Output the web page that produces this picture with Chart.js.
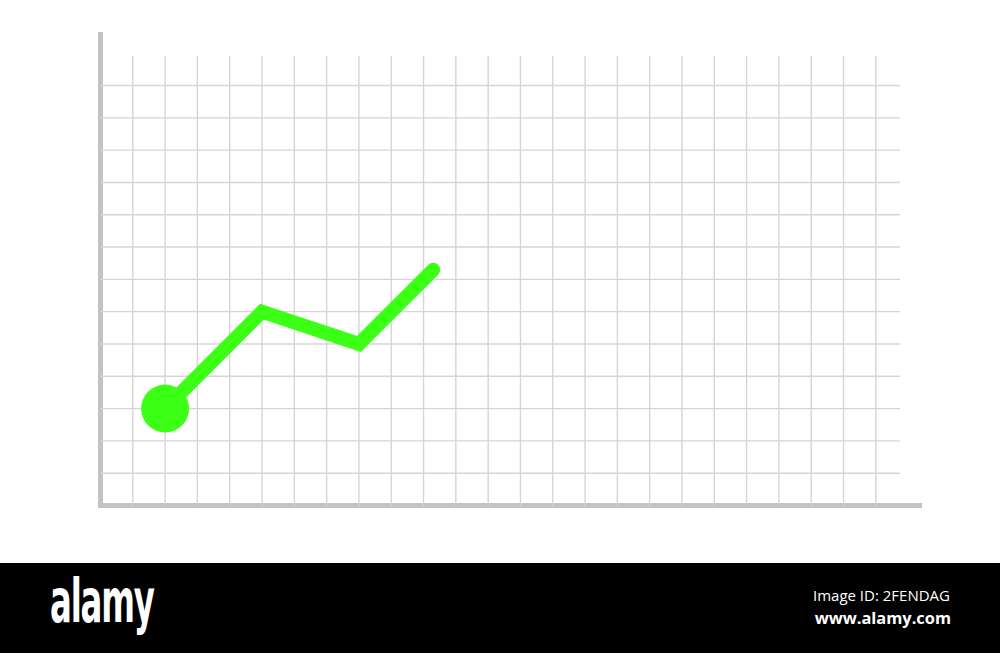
<!DOCTYPE html>
<html>
<head>
<meta charset="utf-8">
<script src="https://cdn.jsdelivr.net/npm/chart.js@4"></script>
<style>
  html, body { margin: 0; padding: 0; background: #fff; }
  #wrap { position: relative; width: 1000px; height: 563px; }
  #band { position: relative; width: 1000px; height: 90px; background: #000; overflow: hidden; }
  #logo { position: absolute; left: 50px; top: 8px; color: #fff; font-family: 'Liberation Sans Narrow', 'DejaVu Sans Condensed', sans-serif; font-weight: bold; font-size: 60px; letter-spacing: -2px; line-height: 60px; transform: scaleX(0.6); transform-origin: left top; }
  #imgid { position: absolute; right: 50px; top: 22px; color: #fff; font-family: 'Open Sans', 'Noto Sans', sans-serif; font-size: 15px; line-height: 20px; }
  #url { position: absolute; right: 49px; top: 45px; color: #fff; font-family: 'Open Sans', 'Noto Sans', sans-serif; font-weight: bold; font-size: 16.4px; line-height: 20px; }
</style>
</head>
<body>
<div id="wrap"><canvas id="c"></canvas></div>
<div id="band">
  <div id="logo">alamy</div>
  <div id="imgid">Image ID: 2FENDAG</div>
  <div id="url">www.alamy.com</div>
</div>
<script>
// Data
const xValues = [2, 5, 8, 10.3];
const yValues = [3, 6, 5, 7.3];
const pointSizes = [24, 0, 0, 0];
// Grid line positions (in axis units)
const xGridTicks = [1,2,3,4,5,6,7,8,9,10,11,12,13,14,15,16,17,18,19,20,21,22,23,24];
const yGridTicks = [1,2,3,4,5,6,7,8,9,10,11,12,13];
const xGridEnd = 24.75;
const yGridEnd = 13.92;
const xMax = 25.43;
const yMax = 14.58;

const gridPlugin = {
  id: 'paperGrid',
  beforeDatasetsDraw(chart) {
    const ctx = chart.ctx;
    const xs = chart.scales.x, ys = chart.scales.y;
    ctx.save();
    ctx.strokeStyle = '#d5d5d5';
    ctx.lineWidth = 1.4;
    const yTop = ys.getPixelForValue(yGridEnd);
    const yBot = ys.getPixelForValue(0);
    xGridTicks.forEach(v => {
      const px = xs.getPixelForValue(v);
      ctx.beginPath(); ctx.moveTo(px, yTop); ctx.lineTo(px, yBot); ctx.stroke();
    });
    const xL = xs.getPixelForValue(0);
    const xR = xs.getPixelForValue(xGridEnd);
    yGridTicks.forEach(v => {
      const py = ys.getPixelForValue(v);
      ctx.beginPath(); ctx.moveTo(xL, py); ctx.lineTo(xR, py); ctx.stroke();
    });
    ctx.restore();
  }
};

new Chart(document.getElementById('c'), {
  type: 'line',
  data: {
    datasets: [{
      data: xValues.map((x, i) => ({ x: x, y: yValues[i] })),
      borderColor: '#3cff16',
      backgroundColor: '#3cff16',
      borderWidth: 14,
      borderCapStyle: 'round',
      borderJoinStyle: 'miter',
      pointRadius: pointSizes,
      pointBorderWidth: 0,
      pointHoverRadius: pointSizes,
      tension: 0,
      fill: false
    }]
  },
  options: {
    responsive: true,
    maintainAspectRatio: false,
    animation: false,
    events: [],
    layout: { padding: { left: 100.5, top: 34.5, right: 78, bottom: 57.5 } },
    plugins: { legend: { display: false }, tooltip: { enabled: false } },
    scales: {
      x: {
        type: 'linear', min: 0, max: xMax,
        grid: { display: true, drawOnChartArea: false, drawTicks: false, lineWidth: 0 },
        border: { display: true, color: '#c3c3c3', width: 5 },
        ticks: { display: false, stepSize: 1 }
      },
      y: {
        type: 'linear', min: 0, max: yMax,
        grid: { display: true, drawOnChartArea: false, drawTicks: false, lineWidth: 0 },
        border: { display: true, color: '#c3c3c3', width: 5 },
        ticks: { display: false, stepSize: 1 }
      }
    }
  },
  plugins: [gridPlugin]
});
</script>
</body>
</html>
